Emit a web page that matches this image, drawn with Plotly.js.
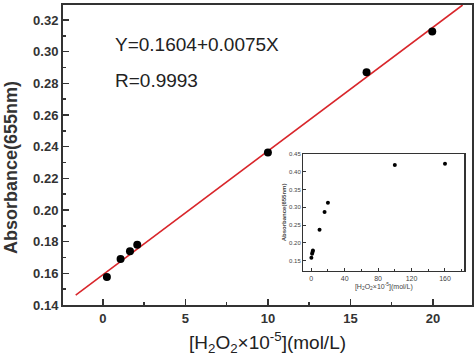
<!DOCTYPE html>
<html>
<head>
<meta charset="utf-8">
<script src="https://cdn.plot.ly/plotly-3.0.1.min.js"></script>
<style>html,body{margin:0;padding:0;background:#fff;}#chart{width:474px;height:358px;}</style>
</head>
<body>
<div id="chart"></div>
<script>
// Main calibration data
const concX = [0.24, 1.07, 1.64, 2.08, 10, 15.98, 19.96];
const absY = [0.1577, 0.169, 0.174, 0.178, 0.2364, 0.287, 0.3127];
// Fitted line endpoints as drawn
const fitX = [-1.65, 21.8];
const fitY = [0.1463, 0.3295];
// Inset (full concentration range)
const insetX = [0.24, 1.07, 1.64, 2.08, 10, 16, 20, 100, 160];
const insetY = [0.1577, 0.169, 0.174, 0.178, 0.2364, 0.287, 0.3127, 0.419, 0.423];
const eqText = "Y=0.1604+0.0075X";
const rText = "R=0.9993";
const xTitle = "[H<sub>2</sub>O<sub>2</sub>×10<sup>-5</sup>](mol/L)";
const yTitle = "Absorbance(655nm)";

const axisCol = "#333";
const traces = [
  {x: fitX, y: fitY, type: "scatter", mode: "lines", line: {color: "#d9262b", width: 1.6}, xaxis: "x", yaxis: "y", hoverinfo: "skip"},
  {x: concX, y: absY, type: "scatter", mode: "markers", marker: {color: "#000", size: 8}, xaxis: "x", yaxis: "y"},
  {x: insetX, y: insetY, type: "scatter", mode: "markers", marker: {color: "#000", size: 4}, xaxis: "x2", yaxis: "y2"}
];

const layout = {
  width: 474, height: 358,
  margin: {l: 63, r: 2, t: 5, b: 53},
  paper_bgcolor: "#fff", plot_bgcolor: "#fff",
  showlegend: false,
  font: {family: "Liberation Sans, Arial, sans-serif", color: "#222"},
  xaxis: {
    domain: [0, 1], range: [-2.42, 22.37], dtick: 5, tick0: 0,
    ticks: "inside", ticklen: 6, tickwidth: 1.5, tickcolor: axisCol,
    minor: {dtick: 2.5, tick0: 0, ticks: "inside", ticklen: 3, tickcolor: axisCol},
    showline: true, linecolor: axisCol, linewidth: 2, mirror: true,
    showgrid: false, zeroline: false,
    tickfont: {size: 13, family: "Liberation Sans, Arial", weight: "bold", color: "#333"},
    title: {text: xTitle, font: {size: 19, color: "#222"}, standoff: 11}
  },
  yaxis: {
    domain: [0, 1], range: [0.14, 0.3295], dtick: 0.02, tick0: 0.14, tickformat: ".2f",
    ticks: "inside", ticklen: 6, tickwidth: 1.5, tickcolor: axisCol,
    minor: {dtick: 0.01, tick0: 0.14, ticks: "inside", ticklen: 3, tickcolor: axisCol},
    showline: true, linecolor: axisCol, linewidth: 2, mirror: true,
    showgrid: false, zeroline: false,
    tickfont: {size: 13, family: "Liberation Sans, Arial", weight: "bold", color: "#333"}
  },
  xaxis2: {
    domain: [0.588, 0.981], anchor: "y2", range: [-9.2, 183], dtick: 40, tick0: 0,
    ticks: "inside", ticklen: 3, tickwidth: 1, tickcolor: axisCol,
    minor: {dtick: 20, ticks: "inside", ticklen: 2, tickcolor: axisCol},
    showline: true, linecolor: axisCol, linewidth: 1.5, mirror: true,
    showgrid: false, zeroline: false,
    tickfont: {size: 7, color: "#444"},
    title: {text: xTitle, font: {size: 7, color: "#444"}, standoff: 2}
  },
  yaxis2: {
    domain: [0.114, 0.503], anchor: "x2", range: [0.121, 0.45], dtick: 0.05, tick0: 0.15, tickformat: ".2f",
    ticks: "inside", ticklen: 3, tickwidth: 1, tickcolor: axisCol,
    showline: true, linecolor: axisCol, linewidth: 1.5, mirror: true,
    showgrid: false, zeroline: false,
    tickfont: {size: 6, color: "#444"},
    title: {text: yTitle, font: {size: 6, weight: "bold", color: "#444"}, standoff: 2}
  },
  annotations: [
    {text: yTitle, xref: "paper", yref: "paper", x: -52 / 409, y: (305 - 168) / 300, xanchor: "center", yanchor: "middle", textangle: -90, showarrow: false, font: {size: 18, weight: "bold", color: "#333"}},
    {text: eqText, xref: "paper", yref: "paper", x: (113 - 63) / 409, y: (305 - 45) / 300, xanchor: "left", yanchor: "middle", showarrow: false, font: {size: 19, color: "#222"}},
    {text: rText, xref: "paper", yref: "paper", x: (113 - 63) / 409, y: (305 - 80) / 300, xanchor: "left", yanchor: "middle", showarrow: false, font: {size: 19, color: "#222"}}
  ]
};

Plotly.newPlot("chart", traces, layout, {displayModeBar: false, staticPlot: true});
</script>
</body>
</html>
